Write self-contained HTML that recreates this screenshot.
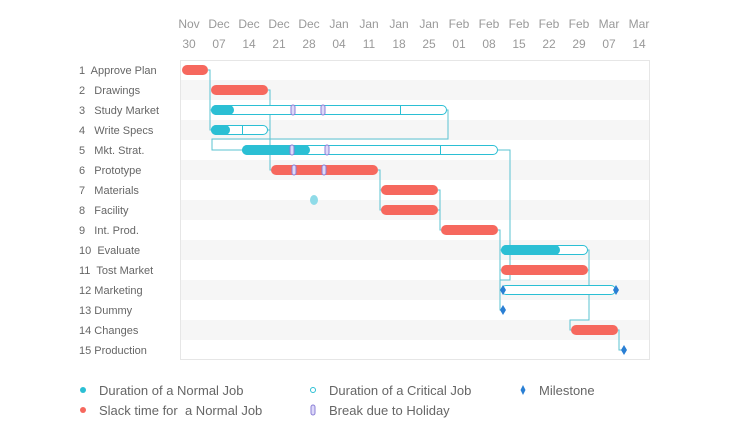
<!DOCTYPE html>
<html><head><meta charset="utf-8"><style>
body{margin:0;background:#fff;}
svg{display:block;font-family:"Liberation Sans",sans-serif;}
text{white-space:pre}
.t{fill:#999;font-size:12px;text-anchor:middle}
.l{fill:#666;font-size:11px}
.g{fill:#666;font-size:13px}
.c{fill:none;stroke:#5bc3d2;stroke-width:1}
.h{fill:#ddd9f9;stroke:#8b7fd6;stroke-width:1}
</style></head><body>
<svg width="730" height="440" xmlns="http://www.w3.org/2000/svg" xml:space="preserve">
<g>
<text class="t" x="189" y="28">Nov</text><text class="t" x="189" y="48">30</text>
<text class="t" x="219" y="28">Dec</text><text class="t" x="219" y="48">07</text>
<text class="t" x="249" y="28">Dec</text><text class="t" x="249" y="48">14</text>
<text class="t" x="279" y="28">Dec</text><text class="t" x="279" y="48">21</text>
<text class="t" x="309" y="28">Dec</text><text class="t" x="309" y="48">28</text>
<text class="t" x="339" y="28">Jan</text><text class="t" x="339" y="48">04</text>
<text class="t" x="369" y="28">Jan</text><text class="t" x="369" y="48">11</text>
<text class="t" x="399" y="28">Jan</text><text class="t" x="399" y="48">18</text>
<text class="t" x="429" y="28">Jan</text><text class="t" x="429" y="48">25</text>
<text class="t" x="459" y="28">Feb</text><text class="t" x="459" y="48">01</text>
<text class="t" x="489" y="28">Feb</text><text class="t" x="489" y="48">08</text>
<text class="t" x="519" y="28">Feb</text><text class="t" x="519" y="48">15</text>
<text class="t" x="549" y="28">Feb</text><text class="t" x="549" y="48">22</text>
<text class="t" x="579" y="28">Feb</text><text class="t" x="579" y="48">29</text>
<text class="t" x="609" y="28">Mar</text><text class="t" x="609" y="48">07</text>
<text class="t" x="639" y="28">Mar</text><text class="t" x="639" y="48">14</text>
</g>
<g fill="#f6f6f6">
<rect x="181" y="80" width="468" height="20"/><rect x="181" y="120" width="468" height="20"/>
<rect x="181" y="160" width="468" height="20"/><rect x="181" y="200" width="468" height="20"/>
<rect x="181" y="240" width="468" height="20"/><rect x="181" y="280" width="468" height="20"/>
<rect x="181" y="320" width="468" height="20"/>
</g>
<rect x="180.5" y="60.5" width="469" height="299" fill="none" stroke="#e6e6e6"/>
<g>
<text class="l" x="79" y="74">1  Approve Plan</text>
<text class="l" x="79" y="94">2   Drawings</text>
<text class="l" x="79" y="114">3   Study Market</text>
<text class="l" x="79" y="134">4   Write Specs</text>
<text class="l" x="79" y="154">5   Mkt. Strat.</text>
<text class="l" x="79" y="174">6   Prototype</text>
<text class="l" x="79" y="194">7   Materials</text>
<text class="l" x="79" y="214">8   Facility</text>
<text class="l" x="79" y="234">9   Int. Prod.</text>
<text class="l" x="79" y="254">10  Evaluate</text>
<text class="l" x="79" y="274">11  Tost Market</text>
<text class="l" x="79" y="294">12 Marketing</text>
<text class="l" x="79" y="314">13 Dummy</text>
<text class="l" x="79" y="334">14 Changes</text>
<text class="l" x="79" y="354">15 Production</text>
</g>
<path class="c" d="M208,70H210V130H211M210,110H211"/>
<path class="c" d="M268,90H270V170H272M268,130H270"/>
<path class="c" d="M447,110H448V139H212V150H242"/>
<path class="c" d="M498,150H510V280H500"/>
<path class="c" d="M378,170H380V210H381M380,190H381"/>
<path class="c" d="M438,190H440V230H441M438,210H440"/>
<path class="c" d="M498,230H500V310H502M500,250H501M500,270H501M500,290H502"/>
<path class="c" d="M588,250H589V320H570V330H571M588,270H589"/>
<path class="c" d="M618,330H619V350H623"/>
<g fill="#f6685e">
<rect x="182" y="65" width="26" height="10" rx="5"/>
<rect x="211" y="85" width="57" height="10" rx="5"/>
<rect x="271" y="165" width="107" height="10" rx="5"/>
<rect x="381" y="185" width="57" height="10" rx="5"/>
<rect x="381" y="205" width="57" height="10" rx="5"/>
<rect x="441" y="225" width="57" height="10" rx="5"/>
<rect x="501" y="265" width="87" height="10" rx="5"/>
<rect x="571" y="325" width="47" height="10" rx="5"/>
</g>
<g stroke="#2bbfd4" stroke-width="1" fill="#fff">
<rect x="211.5" y="105.5" width="235" height="9" rx="4.5"/>
<rect x="211.5" y="125.5" width="56" height="9" rx="4.5"/>
<rect x="242.5" y="145.5" width="255" height="9" rx="4.5"/>
<rect x="501.5" y="245.5" width="86" height="9" rx="4.5"/>
<rect x="501.5" y="285.5" width="114" height="9" rx="4.5"/>
<path d="M400.5,105V115M242.5,125V135M440.5,145V155"/>
</g>
<g fill="#2bbfd4">
<rect x="211" y="105" width="23" height="10" rx="5"/>
<rect x="211" y="125" width="19" height="10" rx="5"/>
<rect x="242" y="145" width="68" height="10" rx="5"/>
<rect x="501" y="245" width="59" height="10" rx="5"/>
</g>
<g class="h">
<rect x="291" y="105" width="4" height="10" rx="2"/><rect x="321" y="105" width="4" height="10" rx="2"/>
<rect x="290" y="145" width="4" height="10" rx="2"/><rect x="325" y="145" width="4" height="10" rx="2"/>
<rect x="292" y="165" width="4" height="10" rx="2"/><rect x="322" y="165" width="4" height="10" rx="2"/>
</g>
<ellipse cx="314" cy="200" rx="4" ry="5" fill="#8fdbe8"/>
<g fill="#2a7fd4">
<path d="M503,285l3,5l-3,5l-3,-5z"/><path d="M616,285l3,5l-3,5l-3,-5z"/>
<path d="M503,305l3,5l-3,5l-3,-5z"/><path d="M624,345l3,5l-3,5l-3,-5z"/>
</g>
<circle cx="83" cy="390" r="3" fill="#2bbfd4"/>
<text class="g" x="99" y="395">Duration of a Normal Job</text>
<circle cx="313" cy="390" r="2.5" fill="#fff" stroke="#2bbfd4"/>
<text class="g" x="329" y="395">Duration of a Critical Job</text>
<path d="M523,385l2.5,5l-2.5,5l-2.5,-5z" fill="#2a7fd4"/>
<text class="g" x="539" y="395">Milestone</text>
<circle cx="83" cy="410" r="3" fill="#f6685e"/>
<text class="g" x="99" y="415">Slack time for  a Normal Job</text>
<rect x="311" y="405" width="4" height="10" rx="2" class="h"/>
<text class="g" x="329" y="415">Break due to Holiday</text>
</svg>
</body></html>
